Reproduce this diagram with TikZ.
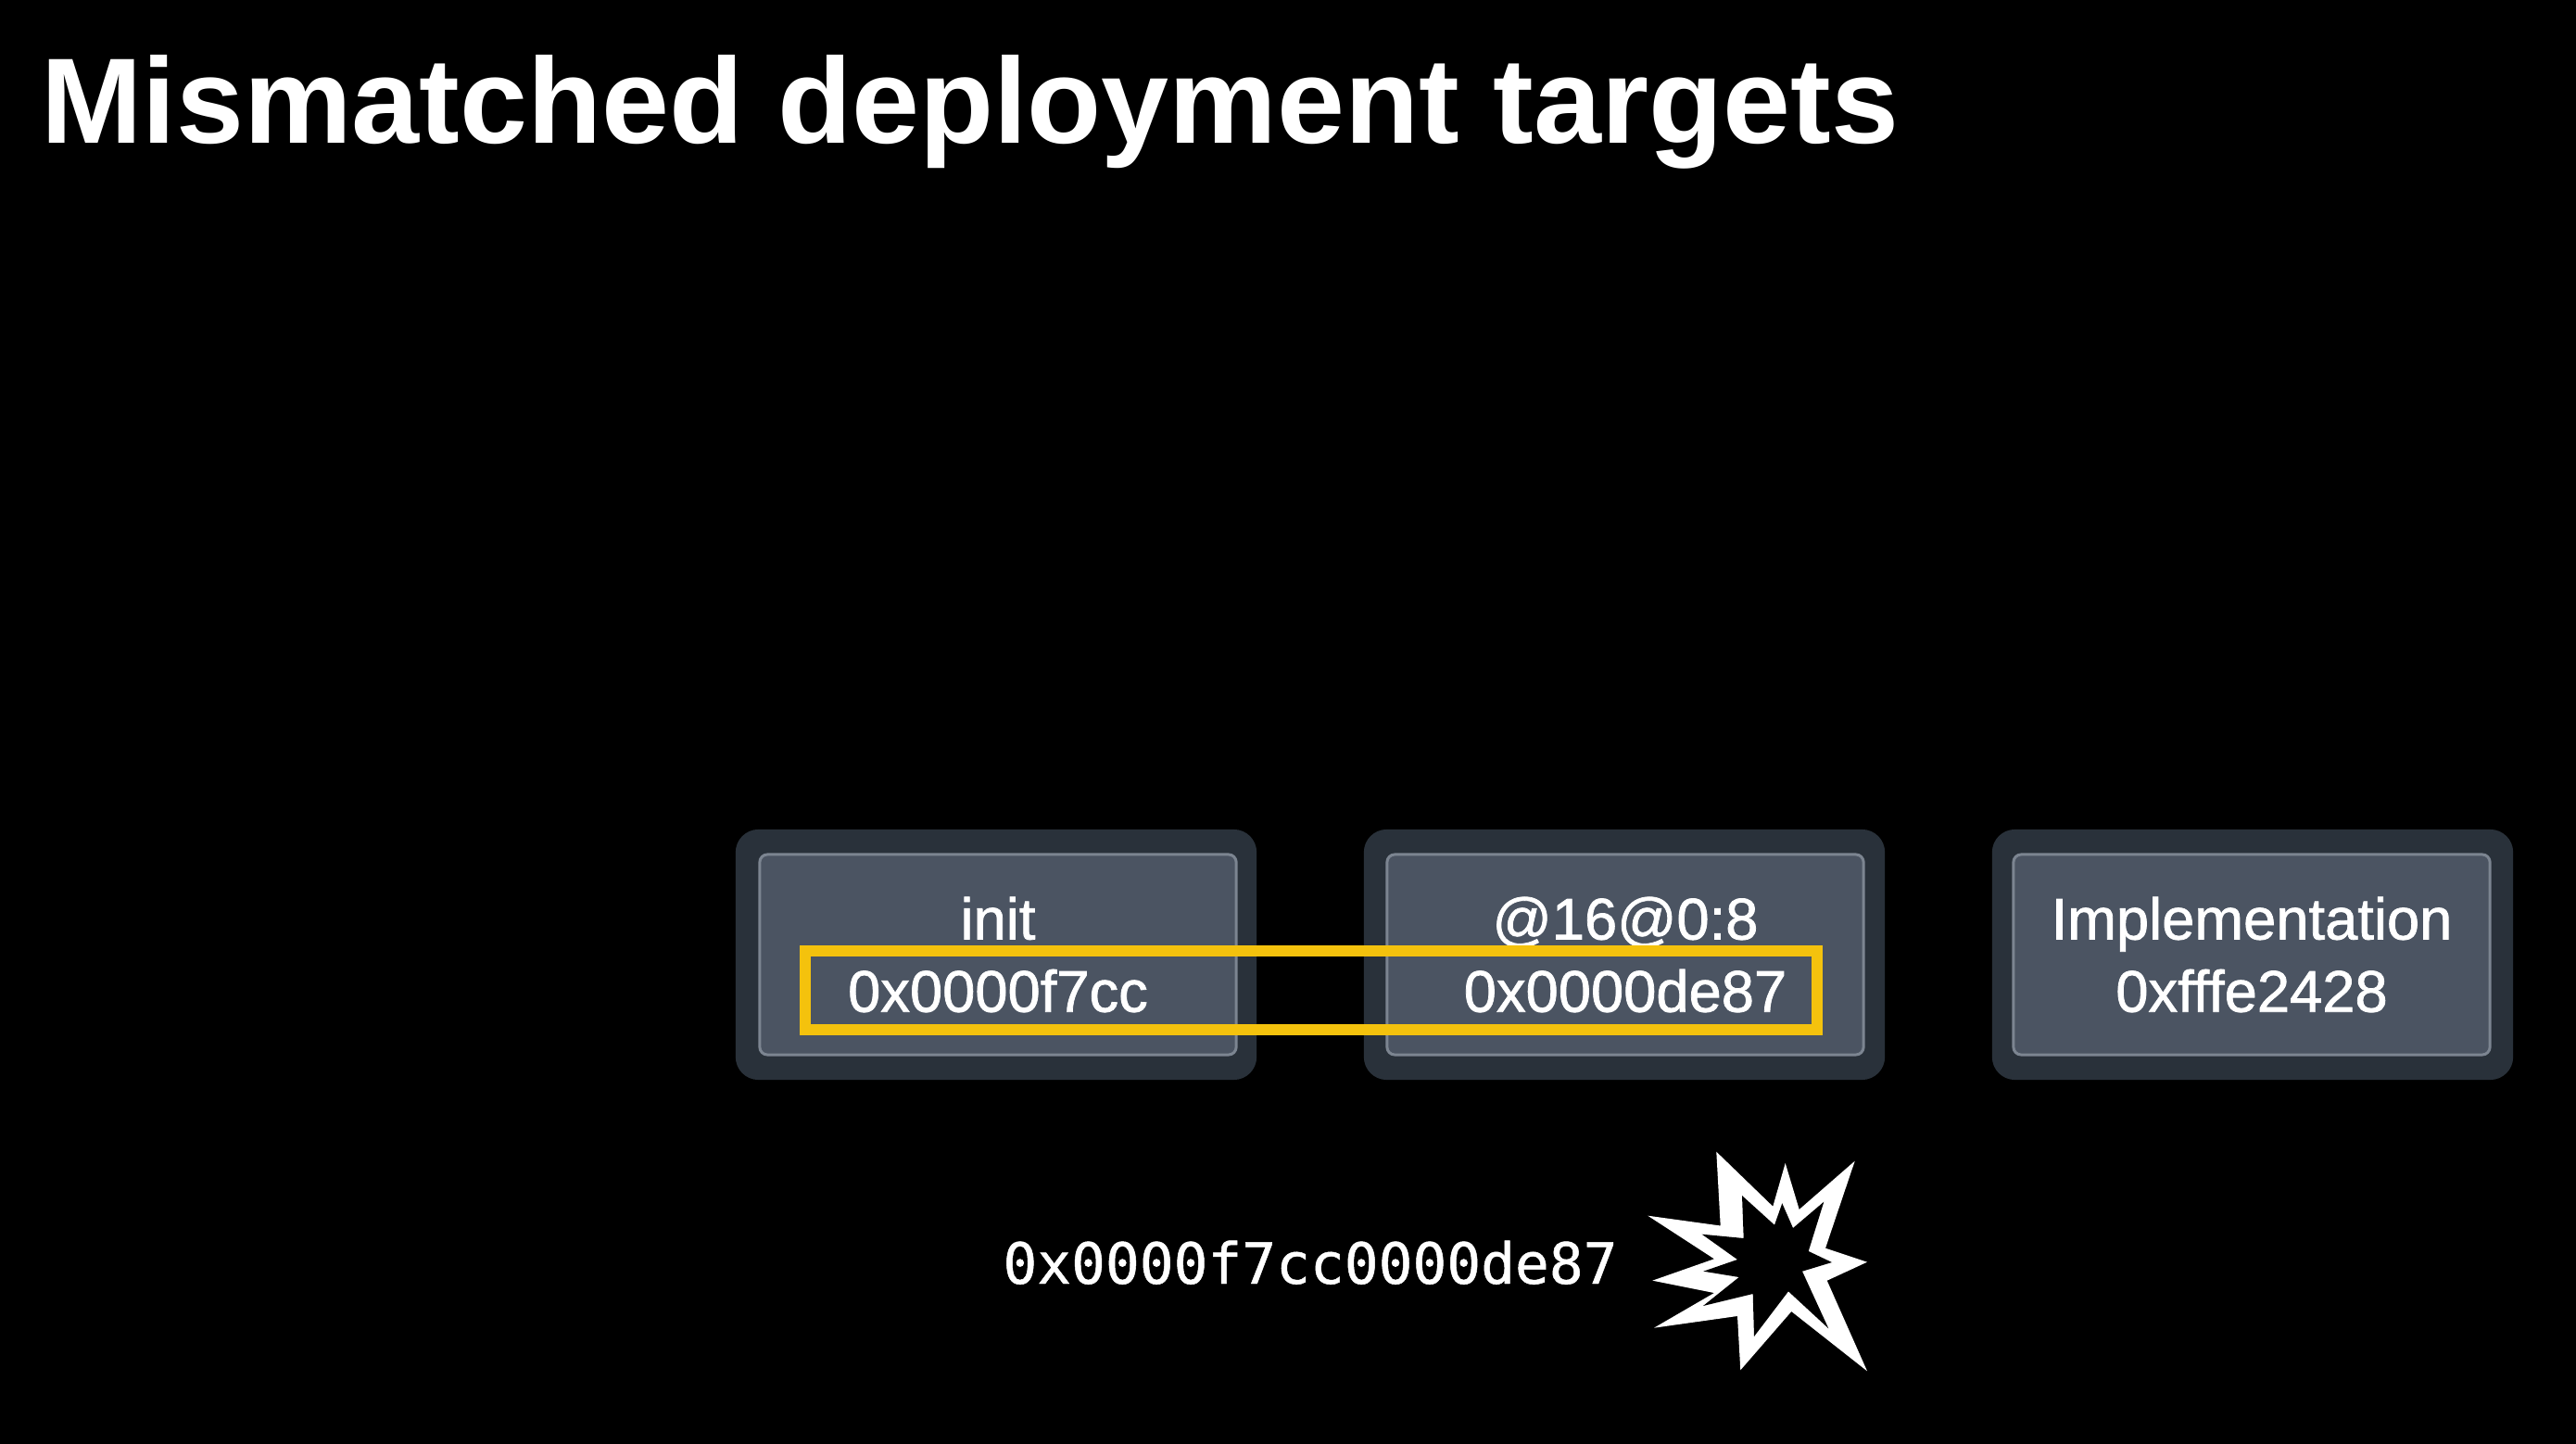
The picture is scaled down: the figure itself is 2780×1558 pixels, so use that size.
\documentclass[tikz,border=0pt]{standalone}
\usepackage{fontspec}
\setmainfont{Liberation Sans}
\newfontfamily\cellfont{Liberation Sans}[FakeBold=1.2]
\newfontfamily\codefont{DejaVu Sans Mono}[FakeBold=0.8]
\usepackage{tikz}
\usetikzlibrary{calc}
\usepackage{color}
\definecolor{slabgray}{HTML}{29313A}
\definecolor{cellgray}{HTML}{4B5462}
\definecolor{cellrim}{HTML}{7C8591}
\definecolor{hiyellow}{HTML}{F4C20D}

\begin{document}
\begin{tikzpicture}[x=0.01cm,y=-0.01cm,
    slab/.style={fill=slabgray, rounded corners=7pt, minimum width=5.62cm, minimum height=2.7cm, inner sep=0pt, outer sep=0pt},
    cell/.style={fill=cellgray, draw=cellrim, line width=0.85pt, rounded corners=2.4pt, minimum width=5.14cm, minimum height=2.16cm, inner sep=0pt, text=white, align=center, font=\cellfont\fontsize{18}{22.2}\selectfont}]
    \fill[black] (0,0) rectangle (2780,1558);
    \useasboundingbox (0,0) rectangle (2780,1558);
    \node (title) at (44,155) [anchor=base west, inner sep=0pt, text=white, font=\fontsize{37.3}{40}\selectfont\bfseries] {Mismatched deployment targets};
    \node (Sinit) at (1075,1030) [slab] {};
    \node (Ssel) at (1753,1030) [slab] {};
    \node (Simp) at (2431,1030) [slab] {};
    \node (init) at (1077,1030) [cell] {init\\0x0000f7cc};
    \node (sel) at (1754,1030) [cell] {@16@0:8\\0x0000de87};
    \node (imp) at (2430,1030) [cell] {Implementation\\0xfffe2428};
    \draw[hiyellow, line width=3.4pt] 
    (869,1026) rectangle (1961,1111);
    \node (joined) at (1414,1385) [anchor=base, text=white, font=\codefont\fontsize{17.4}{20}\selectfont] {0x0000f7cc0000de87};
    \fill[white] 
    (1852.3,1242.7) -- (1913.3,1301.7) -- (1926.7,1255) -- (1941.7,1305)
    -- (2001.7,1252.7) -- (1970,1346.7) -- (2015,1361.7) -- (1971.7,1381.7)
    -- (2015,1479.3) -- (1933.3,1415) -- (1878.3,1478.3) -- (1875,1420)
    -- (1785,1432.7) -- (1850,1395) -- (1783.3,1381.7) -- (1850,1358.3)
    -- (1778.3,1311.7) -- (1856.7,1322.5) -- cycle;
    \fill[black] 
    (1880,1290) -- (1915,1321.7) -- (1923.3,1298.3) -- (1935,1325)
    -- (1968.3,1296.7) -- (1951.7,1350) -- (1977,1362) -- (1945,1371.7)
    -- (1973.3,1433.3) -- (1930,1393.3) -- (1893,1442) -- (1891.7,1396)
    -- (1838,1409) -- (1876.7,1378) -- (1838.3,1371.7) -- (1875,1359)
    -- (1836.7,1331.7) -- (1881.7,1336) -- cycle;
  \end{tikzpicture}
\end{document}
